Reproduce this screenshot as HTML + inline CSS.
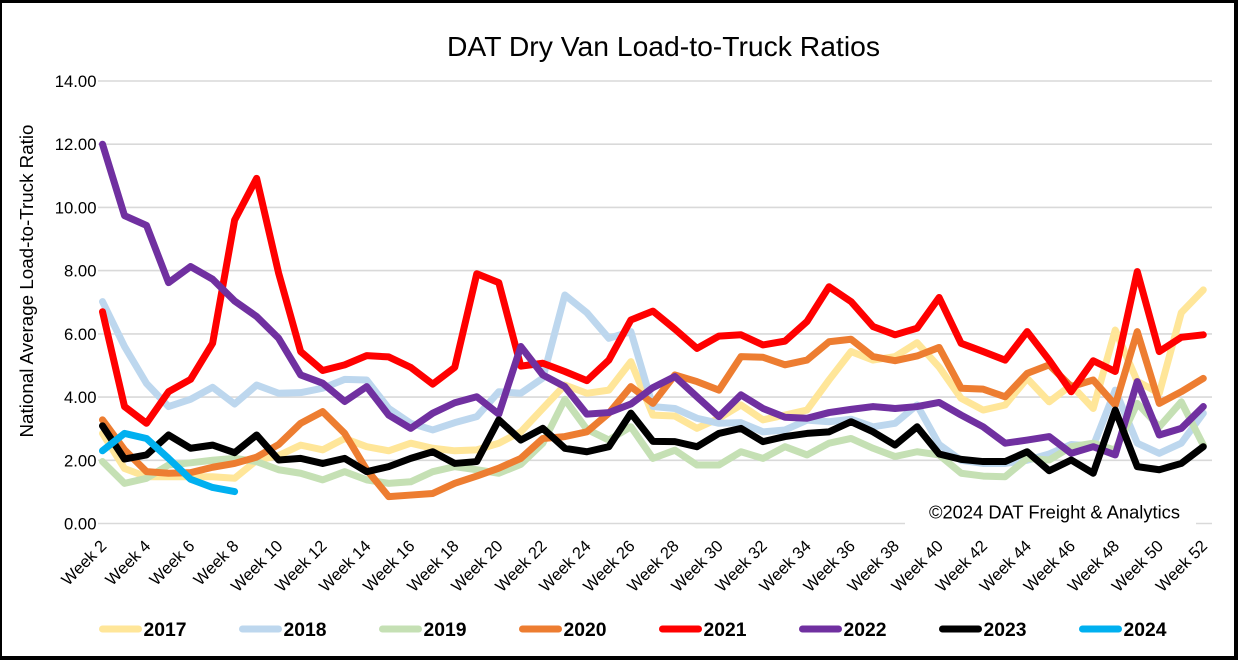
<!DOCTYPE html>
<html><head><meta charset="utf-8"><style>
html,body{margin:0;padding:0;background:#fff;}
svg{display:block;}
text{font-family:"Liberation Sans",Arial,sans-serif;fill:#000;}
</style></head><body>
<svg width="1238" height="660" viewBox="0 0 1238 660" xmlns="http://www.w3.org/2000/svg">
<rect x="0" y="0" width="1238" height="660" fill="#fff"/>
<!-- title -->
<text x="447" y="56" font-size="27.5" textLength="433" lengthAdjust="spacingAndGlyphs">DAT Dry Van Load-to-Truck Ratios</text>
<!-- gridlines -->
<g stroke="#D9D9D9" stroke-width="1.6">
<line x1="98" y1="523.5" x2="1212" y2="523.5"/>
<line x1="98" y1="460.3" x2="1212" y2="460.3"/>
<line x1="98" y1="397.1" x2="1212" y2="397.1"/>
<line x1="98" y1="333.9" x2="1212" y2="333.9"/>
<line x1="98" y1="270.6" x2="1212" y2="270.6"/>
<line x1="98" y1="207.4" x2="1212" y2="207.4"/>
<line x1="98" y1="144.2" x2="1212" y2="144.2"/>
<line x1="98" y1="81" x2="1212" y2="81"/>
</g>
<!-- y labels -->
<g font-size="16.7" text-anchor="end">
<text x="96.5" y="529.5">0.00</text>
<text x="96.5" y="466.3">2.00</text>
<text x="96.5" y="403.1">4.00</text>
<text x="96.5" y="339.9">6.00</text>
<text x="96.5" y="276.6">8.00</text>
<text x="96.5" y="213.4">10.00</text>
<text x="96.5" y="150.2">12.00</text>
<text x="96.5" y="87">14.00</text>
</g>
<!-- axis title -->
<text transform="translate(33,281) rotate(-90)" font-size="18.5" text-anchor="middle" textLength="313" lengthAdjust="spacingAndGlyphs">National Average Load-to-Truck Ratio</text>
<!-- copyright box -->
<rect x="905" y="492" width="291" height="40" fill="#fff"/>
<text x="929" y="518.5" font-size="18.5" textLength="251" lengthAdjust="spacingAndGlyphs">©2024 DAT Freight &amp; Analytics</text>
<!-- series -->
<g transform="translate(102.5,523.5) scale(22.016,-31.607)" fill="none" stroke-linejoin="round" stroke-linecap="round">
<polyline vector-effect="non-scaling-stroke" stroke="#FFE699" stroke-width="7" points="0,2.85 1,1.74 2,1.48 3,1.48 4,1.48 5,1.48 6,1.43 7,2.00 8,2.15 9,2.48 10,2.33 11,2.69 12,2.43 13,2.30 14,2.54 15,2.38 16,2.30 17,2.33 18,2.54 19,2.90 20,3.64 21,4.38 22,4.12 23,4.22 24,5.12 25,3.43 26,3.40 27,3.01 28,3.33 29,3.75 30,3.28 31,3.43 32,3.59 33,4.54 34,5.44 35,5.17 36,5.28 37,5.72 38,4.95 39,3.96 40,3.59 41,3.75 42,4.59 43,3.85 44,4.38 45,3.64 46,6.12 47,4.50 48,4.12 49,6.67 50,7.39"/>
<polyline vector-effect="non-scaling-stroke" stroke="#BDD7EE" stroke-width="7" points="0,7.02 1,5.60 2,4.43 3,3.70 4,3.93 5,4.31 6,3.78 7,4.38 8,4.12 9,4.14 10,4.28 11,4.56 12,4.54 13,3.64 14,3.17 15,2.96 16,3.19 17,3.38 18,4.17 19,4.12 20,4.60 21,7.23 22,6.67 23,5.86 24,6.07 25,3.70 26,3.64 27,3.33 28,3.17 29,3.19 30,2.90 31,2.96 32,3.27 33,3.22 34,3.30 35,3.06 36,3.17 37,3.75 38,2.50 39,2.00 40,1.90 41,1.90 42,2.00 43,2.20 44,2.50 45,2.45 46,4.22 47,2.54 48,2.22 49,2.54 50,3.49"/>
<polyline vector-effect="non-scaling-stroke" stroke="#C5E0B4" stroke-width="7" points="0,1.96 1,1.27 2,1.43 3,1.85 4,1.92 5,2.00 6,2.06 7,1.96 8,1.70 9,1.59 10,1.38 11,1.64 12,1.38 13,1.27 14,1.32 15,1.64 16,1.80 17,1.70 18,1.59 19,1.87 20,2.54 21,3.93 22,2.98 23,2.64 24,3.06 25,2.06 26,2.32 27,1.85 28,1.85 29,2.27 30,2.06 31,2.43 32,2.17 33,2.54 34,2.69 35,2.38 36,2.12 37,2.27 38,2.17 39,1.59 40,1.50 41,1.48 42,2.06 43,2.01 44,2.43 45,2.54 46,2.32 47,3.80 48,3.06 49,3.85 50,2.48"/>
<polyline vector-effect="non-scaling-stroke" stroke="#ED7D31" stroke-width="7" points="0,3.28 1,2.33 2,1.64 3,1.59 4,1.61 5,1.78 6,1.90 7,2.10 8,2.50 9,3.17 10,3.54 11,2.85 12,1.70 13,0.85 14,0.90 15,0.95 16,1.27 17,1.50 18,1.75 19,2.06 20,2.69 21,2.75 22,2.90 23,3.49 24,4.33 25,3.80 26,4.70 27,4.49 28,4.22 29,5.28 30,5.26 31,5.02 32,5.17 33,5.75 34,5.83 35,5.28 36,5.15 37,5.30 38,5.57 39,4.28 40,4.25 41,4.01 42,4.75 43,5.02 44,4.33 45,4.54 46,3.75 47,6.07 48,3.80 49,4.17 50,4.59"/>
<polyline vector-effect="non-scaling-stroke" stroke="#FF0000" stroke-width="7" points="0,6.70 1,3.70 2,3.17 3,4.17 4,4.56 5,5.70 6,9.60 7,10.92 8,7.92 9,5.44 10,4.84 11,5.02 12,5.31 13,5.27 14,4.94 15,4.41 16,4.94 17,7.90 18,7.62 19,4.98 20,5.07 21,4.81 22,4.52 23,5.17 24,6.44 25,6.72 26,6.15 27,5.54 28,5.93 29,5.97 30,5.65 31,5.77 32,6.39 33,7.49 34,7.02 35,6.23 36,5.97 37,6.18 38,7.15 39,5.70 40,5.44 41,5.17 42,6.07 43,5.17 44,4.17 45,5.15 46,4.81 47,7.97 48,5.44 49,5.89 50,5.97"/>
<polyline vector-effect="non-scaling-stroke" stroke="#7030A0" stroke-width="7" points="0,12.00 1,9.74 2,9.43 3,7.62 4,8.13 5,7.73 6,7.04 7,6.55 8,5.86 9,4.70 10,4.44 11,3.86 12,4.33 13,3.43 14,3.01 15,3.49 16,3.82 17,4.01 18,3.46 19,5.60 20,4.70 21,4.33 22,3.46 23,3.51 24,3.78 25,4.30 26,4.65 27,4.01 28,3.38 29,4.07 30,3.64 31,3.36 32,3.33 33,3.51 34,3.61 35,3.70 36,3.64 37,3.70 38,3.83 39,3.43 40,3.06 41,2.54 42,2.64 43,2.75 44,2.22 45,2.43 46,2.17 47,4.49 48,2.80 49,3.01 50,3.70"/>
<polyline vector-effect="non-scaling-stroke" stroke="#000000" stroke-width="7" points="0,3.09 1,2.04 2,2.17 3,2.80 4,2.38 5,2.48 6,2.24 7,2.80 8,2.01 9,2.06 10,1.90 11,2.06 12,1.64 13,1.80 14,2.06 15,2.27 16,1.90 17,1.96 18,3.28 19,2.64 20,3.01 21,2.38 22,2.27 23,2.43 24,3.49 25,2.60 26,2.59 27,2.43 28,2.85 29,3.01 30,2.59 31,2.75 32,2.85 33,2.90 34,3.22 35,2.90 36,2.48 37,3.06 38,2.20 39,2.03 40,1.96 41,1.96 42,2.27 43,1.67 44,2.01 45,1.59 46,3.59 47,1.80 48,1.70 49,1.90 50,2.43"/>
<polyline vector-effect="non-scaling-stroke" stroke="#00B0F0" stroke-width="7" points="0,2.30 1,2.85 2,2.69 3,2.06 4,1.40 5,1.14 6,1.01"/>
</g>
<!-- x labels -->
<g font-size="16.5" text-anchor="end">
<text transform="translate(107.5,547) rotate(-45)">Week 2</text>
<text transform="translate(151.5,547) rotate(-45)">Week 4</text>
<text transform="translate(195.6,547) rotate(-45)">Week 6</text>
<text transform="translate(239.6,547) rotate(-45)">Week 8</text>
<text transform="translate(283.6,547) rotate(-45)">Week 10</text>
<text transform="translate(327.7,547) rotate(-45)">Week 12</text>
<text transform="translate(371.7,547) rotate(-45)">Week 14</text>
<text transform="translate(415.7,547) rotate(-45)">Week 16</text>
<text transform="translate(459.8,547) rotate(-45)">Week 18</text>
<text transform="translate(503.8,547) rotate(-45)">Week 20</text>
<text transform="translate(547.8,547) rotate(-45)">Week 22</text>
<text transform="translate(591.9,547) rotate(-45)">Week 24</text>
<text transform="translate(635.9,547) rotate(-45)">Week 26</text>
<text transform="translate(679.9,547) rotate(-45)">Week 28</text>
<text transform="translate(724.0,547) rotate(-45)">Week 30</text>
<text transform="translate(768.0,547) rotate(-45)">Week 32</text>
<text transform="translate(812.0,547) rotate(-45)">Week 34</text>
<text transform="translate(856.1,547) rotate(-45)">Week 36</text>
<text transform="translate(900.1,547) rotate(-45)">Week 38</text>
<text transform="translate(944.1,547) rotate(-45)">Week 40</text>
<text transform="translate(988.2,547) rotate(-45)">Week 42</text>
<text transform="translate(1032.2,547) rotate(-45)">Week 44</text>
<text transform="translate(1076.2,547) rotate(-45)">Week 46</text>
<text transform="translate(1120.3,547) rotate(-45)">Week 48</text>
<text transform="translate(1164.3,547) rotate(-45)">Week 50</text>
<text transform="translate(1208.3,547) rotate(-45)">Week 52</text>
</g>
<!-- legend -->
<g stroke-width="7" stroke-linecap="round">
<line x1="102.5" y1="629" x2="138.5" y2="629" stroke="#FFE699"/>
<line x1="242.5" y1="629" x2="278.5" y2="629" stroke="#BDD7EE"/>
<line x1="382.5" y1="629" x2="418.5" y2="629" stroke="#C5E0B4"/>
<line x1="522.5" y1="629" x2="558.5" y2="629" stroke="#ED7D31"/>
<line x1="662.5" y1="629" x2="698.5" y2="629" stroke="#FF0000"/>
<line x1="802.5" y1="629" x2="838.5" y2="629" stroke="#7030A0"/>
<line x1="942.5" y1="629" x2="978.5" y2="629" stroke="#000000"/>
<line x1="1082.5" y1="629" x2="1118.5" y2="629" stroke="#00B0F0"/>
</g>
<g font-size="19.5" font-weight="bold">
<text x="143.5" y="636" textLength="43" lengthAdjust="spacingAndGlyphs">2017</text>
<text x="283.5" y="636" textLength="43" lengthAdjust="spacingAndGlyphs">2018</text>
<text x="423.5" y="636" textLength="43" lengthAdjust="spacingAndGlyphs">2019</text>
<text x="563.5" y="636" textLength="43" lengthAdjust="spacingAndGlyphs">2020</text>
<text x="703.5" y="636" textLength="43" lengthAdjust="spacingAndGlyphs">2021</text>
<text x="843.5" y="636" textLength="43" lengthAdjust="spacingAndGlyphs">2022</text>
<text x="983.5" y="636" textLength="43" lengthAdjust="spacingAndGlyphs">2023</text>
<text x="1123.5" y="636" textLength="43" lengthAdjust="spacingAndGlyphs">2024</text>
</g>
<!-- border -->
<rect x="0" y="0" width="2" height="660" fill="#000"/>
<rect x="0" y="0" width="1238" height="3" fill="#000"/>
<rect x="1234" y="0" width="4" height="660" fill="#000"/>
<rect x="0" y="656" width="1238" height="4" fill="#000"/>
</svg>
</body></html>
